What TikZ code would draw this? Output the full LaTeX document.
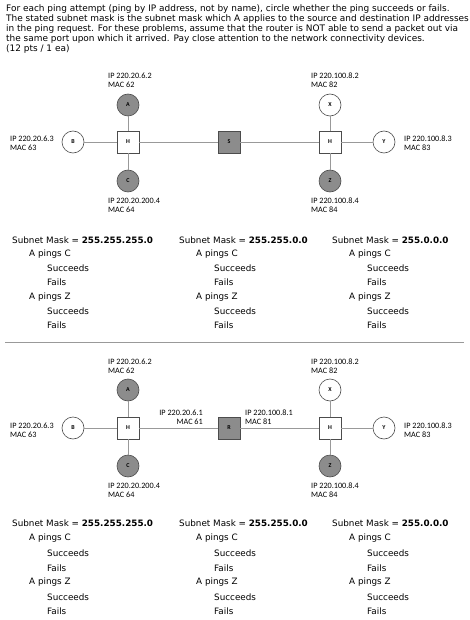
\documentclass[tikz,border=0pt]{standalone}
\usepackage{fontspec}
\setmainfont{DejaVu Sans}
\newfontfamily\lblfont{Carlito}
\begin{document}
\begin{tikzpicture}[x=1pt,y=-1pt,
  head/.style={anchor=west,inner sep=0pt,font=\fontsize{8.95}{10}\selectfont},
  body/.style={anchor=west,inner sep=0pt,font=\fontsize{8.8}{10}\selectfont},
  lbl/.style={anchor=west,inner sep=0pt,font=\lblfont\fontsize{8.2}{9}\selectfont,align=left},
  lblr/.style={anchor=east,inner sep=0pt,font=\lblfont\fontsize{8.2}{9}\selectfont,align=right},
  host/.style={circle,draw=black!70,line width=0.6pt,minimum size=22pt,inner sep=0pt,font=\lblfont\bfseries\fontsize{6}{7}\selectfont},
  ghost/.style={host,fill=black!45},
  hub/.style={rectangle,draw=black!70,line width=0.6pt,fill=white,minimum size=22pt,inner sep=0pt,font=\lblfont\bfseries\fontsize{6}{7}\selectfont},
  dev/.style={hub,fill=black!45},
  link/.style={draw=black!40,line width=0.8pt}]
\useasboundingbox (0,0) rectangle (469,620);
\fill[white] (0,0) rectangle (469,620);
% header text
\node[head] (t1) at (6,9.3) {For each ping attempt (ping by IP address, not by name), circle whether the ping succeeds or fails.};
\node[head] (t2) at (6,19.3) {The stated subnet mask is the subnet mask which A applies to the source and destination IP addresses};
\node[head] (t3) at (6,29.3) {in the ping request. For these problems, assume that the router is NOT able to send a packet out via};
\node[head] (t4) at (6,39.3) {the same port upon which it arrived. Pay close attention to the network connectivity devices.};
\node[head] (t5) at (6,49.3) {(12 pts / 1 ea)};

% ---------- top diagram ----------
\node[ghost] (A1) at (128,105) {A};
\node[hub] (H1) at (128,142) {H};
\node[host] (B1) at (73,142) {B};
\node[ghost] (C1) at (128,181) {C};
\node[dev] (S1) at (229,142) {S};
\node[host] (X1) at (330,105) {X};
\node[hub] (H2) at (330,142) {H};
\node[host] (Y1) at (384,142) {Y};
\node[ghost] (Z1) at (330,181) {Z};
\draw[link] (A1) -- (H1);
\draw[link] (B1) -- (H1);
\draw[link] (C1) -- (H1);
\draw[link] (H1) -- (S1);
\draw[link] (S1) -- (H2);
\draw[link] (X1) -- (H2);
\draw[link] (H2) -- (Y1);
\draw[link] (Z1) -- (H2);
\node[lbl] (la1) at (108,80) {IP 220.20.6.2\\MAC 62};
\node[lbl] (lb1) at (10,143) {IP 220.20.6.3\\MAC 63};
\node[lbl] (lc1) at (108,205.5) {IP 220.20.200.4\\MAC 64};
\node[lbl] (lx1) at (311,80) {IP 220.100.8.2\\MAC 82};
\node[lbl] (ly1) at (404,143) {IP 220.100.8.3\\MAC 83};
\node[lbl] (lz1) at (311,205.5) {IP 220.100.8.4\\MAC 84};

% ---------- top answers ----------
\foreach \x/\m [count=\i] in {12/255.255.255.0,179/255.255.0.0,332/255.0.0.0}{
  \node[body] (m1\i) at (\x,240) {Subnet Mask = \textbf{\m}};
  \node[body] (pc1\i) at (\x+17,254) {A pings C};
  \node[body] (sc1\i) at (\x+35,268) {Succeeds};
  \node[body] (fc1\i) at (\x+35,282) {Fails};
  \node[body] (pz1\i) at (\x+17,297) {A pings Z};
  \node[body] (sz1\i) at (\x+35,311) {Succeeds};
  \node[body] (fz1\i) at (\x+35,325) {Fails};
}

% separator
\draw[draw=black!40,line width=0.8pt] (5,342.5) -- (464,342.5);

% ---------- bottom diagram ----------
\node[ghost] (A2) at (128,390) {A};
\node[hub] (H3) at (128,428) {H};
\node[host] (B2) at (73,428) {B};
\node[ghost] (C2) at (128,466) {C};
\node[dev] (R2) at (229,428) {R};
\node[host] (X2) at (330,390) {X};
\node[hub] (H4) at (330,428) {H};
\node[host] (Y2) at (384,428) {Y};
\node[ghost] (Z2) at (330,466) {Z};
\draw[link] (A2) -- (H3);
\draw[link] (B2) -- (H3);
\draw[link] (C2) -- (H3);
\draw[link] (H3) -- (R2);
\draw[link] (R2) -- (H4);
\draw[link] (X2) -- (H4);
\draw[link] (H4) -- (Y2);
\draw[link] (Z2) -- (H4);
\node[lbl] (la2) at (108,366.5) {IP 220.20.6.2\\MAC 62};
\node[lbl] (lb2) at (10,430) {IP 220.20.6.3\\MAC 63};
\node[lbl] (lc2) at (108,490.5) {IP 220.20.200.4\\MAC 64};
\node[lblr] (lr1) at (203,417) {IP 220.20.6.1\\MAC 61};
\node[lbl] (lr2) at (245,417) {IP 220.100.8.1\\MAC 81};
\node[lbl] (lx2) at (311,366.5) {IP 220.100.8.2\\MAC 82};
\node[lbl] (ly2) at (404,430) {IP 220.100.8.3\\MAC 83};
\node[lbl] (lz2) at (311,490.5) {IP 220.100.8.4\\MAC 84};

% ---------- bottom answers ----------
\foreach \x/\m [count=\i] in {12/255.255.255.0,179/255.255.0.0,332/255.0.0.0}{
  \node[body] (m2\i) at (\x,523) {Subnet Mask = \textbf{\m}};
  \node[body] (pc2\i) at (\x+17,538) {A pings C};
  \node[body] (sc2\i) at (\x+35,553) {Succeeds};
  \node[body] (fc2\i) at (\x+35,568) {Fails};
  \node[body] (pz2\i) at (\x+17,582) {A pings Z};
  \node[body] (sz2\i) at (\x+35,597) {Succeeds};
  \node[body] (fz2\i) at (\x+35,611) {Fails};
}
\end{tikzpicture}
\end{document}
